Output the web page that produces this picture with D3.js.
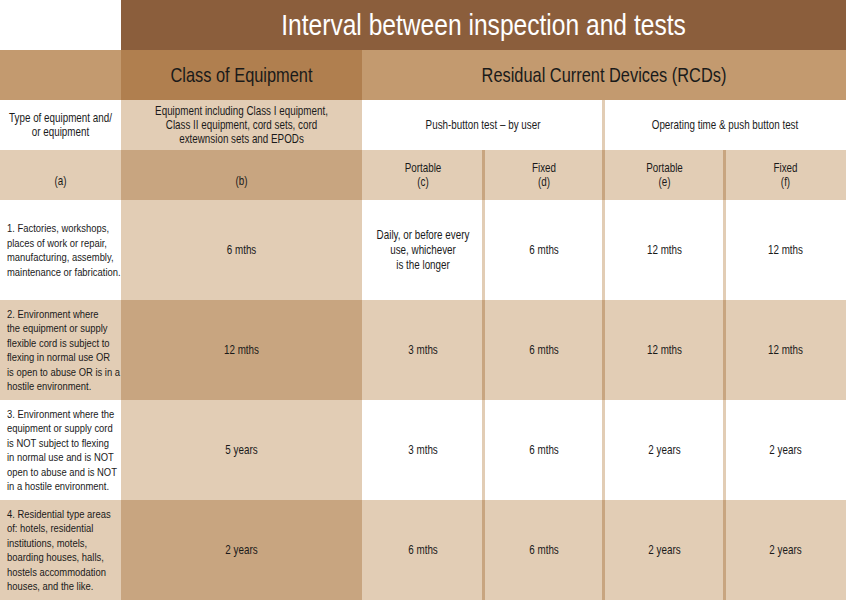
<!DOCTYPE html>
<html><head><meta charset="utf-8">
<script src="https://cdn.jsdelivr.net/npm/d3@7"></script>
<style>
body{margin:0;background:#fff}
text{font-family:"Liberation Sans",Arial,sans-serif;fill:#1a1a1a}
</style></head><body>
<svg width="846" height="600"></svg>
<script>
const title = "Interval between inspection and tests";
const groupHeaders = ["Class of Equipment", "Residual Current Devices (RCDs)"];
const subHeaders = [
  ["Type of equipment and/", "or equipment"],
  ["Equipment including Class I equipment,", "Class II equipment, cord sets, cord", "extewnsion sets and EPODs"],
  ["Push-button test – by user"],
  ["Operating time & push button test"]
];
const colKeys = ["a", "b", "c", "d", "e", "f"];
const colNames = ["", "", "Portable", "Fixed", "Portable", "Fixed"];
const rowLabels = [
  ["1. Factories, workshops,", "places of work or repair,", "manufacturing, assembly,", "maintenance or fabrication."],
  ["2. Environment where", "the equipment or supply", "flexible cord is subject to", "flexing in normal use OR", "is open to abuse OR is in a", "hostile environment."],
  ["3. Environment where the", "equipment or supply cord", "is NOT subject to flexing", "in normal use and is NOT", "open to abuse and is NOT", "in a hostile environment."],
  ["4. Residential type areas", "of: hotels, residential", "institutions, motels,", "boarding houses, halls,", "hostels accommodation", "houses, and the like."]
];
const values = [
  [["6 mths"], [ "Daily, or before every", "use, whichever", "is the longer"], ["6 mths"], ["12 mths"], ["12 mths"]],
  [["12 mths"], ["3 mths"], ["6 mths"], ["12 mths"], ["12 mths"]],
  [["5 years"], ["3 mths"], ["6 mths"], ["2 years"], ["2 years"]],
  [["2 years"], ["6 mths"], ["6 mths"], ["2 years"], ["2 years"]]
];

const W = 846;
const SX = 0.82; // narrow the font horizontally, like a condensed face
const svg = d3.select("svg");
const xEdges = [0, 121, 362, 484, 604, 725, W];
const x = i => xEdges[i];
const cw = i => xEdges[i + 1] - xEdges[i];
const y = d3.scaleLinear().domain([0, 1, 2, 3, 4, 8]).range([0, 50, 100, 150, 200, 600]);

const C = { dark: "#8b5e3c", mid: "#c39a6f", midDark: "#b07f4f", beige: "#e2cdb5", beigeDark: "#c8a580", white: "#fff" };

function cell(x0, y0, w, h, fill) {
  svg.append("rect").attr("x", x0).attr("y", y0).attr("width", w).attr("height", h).attr("fill", fill);
}
function label(cx, cy, lines, size, color, lh, anchor) {
  const t = svg.append("text").attr("text-anchor", anchor || "middle").attr("font-size", size)
    .attr("transform", "translate(" + cx + ",0) scale(" + SX + ",1)")
    .style("fill", color || "#1a1a1a");
  const start = cy - (lines.length - 1) * lh / 2;
  lines.forEach((l, i) => t.append("tspan").attr("x", 0).attr("y", start + i * lh).attr("dy", "0.35em").text(l));
  return t;
}

// title row
cell(0, y(0), x(1), y(1), C.white);
cell(x(1), y(0), W - x(1), y(1), C.dark);
label((x(1) + W) / 2, y(0.5), [title], 30, "#fff", 30);

// group header row
cell(0, y(1), W, y(2) - y(1), C.mid);
cell(x(1), y(1), cw(1), y(2) - y(1), C.midDark);
label(x(1) + cw(1) / 2, y(1.5), [groupHeaders[0]], 20, null, 20);
label((x(2) + W) / 2, y(1.5), [groupHeaders[1]], 20, null, 20);

// sub header row
cell(0, y(2), W, y(3) - y(2), C.white);
cell(x(1), y(2), cw(1), y(3) - y(2), C.beige);
cell(x(4) - 2, y(2), 3, y(3) - y(2), C.beige);
label(x(0) + cw(0) / 2, y(2.5), subHeaders[0], 12, null, 14);
label(x(1) + cw(1) / 2, y(2.5), subHeaders[1], 12, null, 14);
label((x(2) + x(4)) / 2, y(2.5), subHeaders[2], 12, null, 14);
label((x(4) + W) / 2, y(2.5), subHeaders[3], 12, null, 14);

// column key row
cell(0, y(3), W, y(4) - y(3), C.beige);
cell(x(1), y(3), cw(1), y(4) - y(3), C.beigeDark);
colKeys.forEach((k, i) => {
  const lines = colNames[i] ? [colNames[i], "(" + k + ")"] : ["(" + k + ")"];
  label(x(i) + cw(i) / 2, colNames[i] ? y(3.5) : y(3.62), lines, 12, null, 14);
});
[3, 4, 5].forEach(i => cell(x(i) - 2, y(3), 3, y(4) - y(3), C.beigeDark));

// body rows
const rowY = d3.scaleBand().domain(d3.range(rowLabels.length)).range([y(4), y(8)]);
rowLabels.forEach((rl, r) => {
  const y0 = rowY(r), h = rowY.bandwidth();
  const shaded = r % 2 === 1;
  cell(0, y0, W, h, shaded ? C.beige : C.white);
  cell(x(1), y0, cw(1), h, shaded ? C.beigeDark : C.beige);
  [3, 4, 5].forEach(i => cell(x(i) - 2, y0, 3, h, shaded ? C.beigeDark : C.beige));
  label(7, y0 + h / 2, rl, 11.5, null, 14.5, "start");
  values[r].forEach((v, j) => label(x(j + 1) + cw(j + 1) / 2, y0 + h / 2, v, 12, null, 15));
});
</script></body></html>
